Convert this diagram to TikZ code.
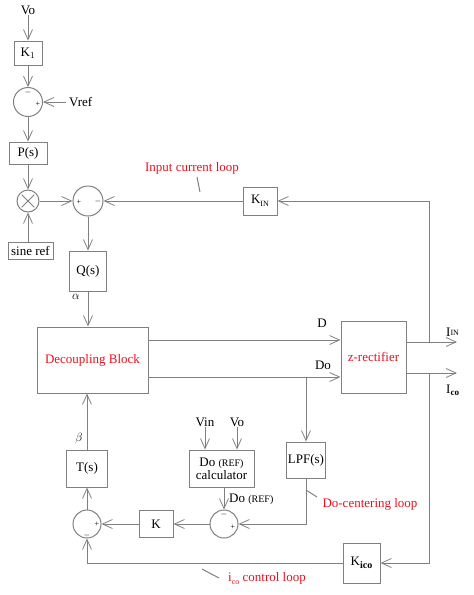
\documentclass[tikz,border=0pt]{standalone}
\usepackage{fontspec}
\setmainfont{Liberation Serif}
\usetikzlibrary{arrows.meta,calc}
\definecolor{ln}{HTML}{808080}
\definecolor{rd}{HTML}{E8101E}
\tikzset{
  blk/.style={draw=ln,line width=1pt,rectangle,inner sep=0pt,align=center,font=\fontsize{13}{14}\selectfont},
  sumc/.style={draw=ln,line width=1pt,circle,inner sep=0pt,minimum size=#1},
  arr/.style={draw=ln,line width=1pt,-{Straight Barb[length=10pt,width=9pt,line width=0.8pt]}},
  wire/.style={draw=ln,line width=1pt},
  txt/.style={inner sep=0pt,font=\fontsize{13}{14}\selectfont},
  rlbl/.style={inner sep=0pt,text=rd,font=\fontsize{13}{14}\selectfont},
  sgn/.style={inner sep=0pt,font=\fontsize{8}{8}\selectfont},
}
\begin{document}
\begin{tikzpicture}[x=1pt,y=-1pt]
\useasboundingbox (0,0) rectangle (474,595);
% left column
\node[txt] (vo) at (28,10) {Vo};
\node[blk,minimum width=28pt,minimum height=24pt] (k1) at (28,53) {K$_1$};
\node[sumc=29pt] (s1) at (28,102) {};
\node[sgn] (s1m) at (28,92) {$-$};
\node[sgn] (s1p) at (38,104) {+};
\coordinate (vrefc) at (66,102);
\node[txt,anchor=west] (vref) at (69,102) {Vref};
\node[blk,minimum width=38pt,minimum height=22pt] (ps) at (28,153) {P(s)};
\node[sumc=22pt] (mu) at (28,201) {};
\node[blk,minimum width=45pt,minimum height=17pt] (sr) at (30.5,250.5) {sine ref};
\node[sumc=30pt] (s2) at (88,201) {};
\node[sgn] (s2p) at (79,202) {+};
\node[sgn] (s2m) at (98,201) {$-$};
\node[blk,minimum width=34pt,minimum height=28pt] (kin) at (260,201) {K\raisebox{-0.5ex}{\fontsize{8}{8}\selectfont IN}};
\node[rlbl] (icl) at (192,168) {Input current loop};
\coordinate (icla) at (197,177);
\coordinate (iclb) at (200,192);
\node[blk,minimum width=37pt,minimum height=40pt] (qs) at (88,271) {Q(s)};
\node[txt] (al) at (76,297) {$\alpha$};
\node[blk,minimum width=111pt,minimum height=66pt,text=rd] (dec) at (92.5,360) {Decoupling Block};
\node[blk,minimum width=65pt,minimum height=72pt,text=rd] (zr) at (373.5,357) {z-rectifier};
\node[txt] (dl) at (322,323) {D};
\node[txt] (dol) at (323,365) {Do};
\node[txt,anchor=west] (iinl) at (446,332) {I\raisebox{0.2ex}{\fontsize{8}{8}\selectfont IN}};
\node[txt,anchor=west] (icol) at (446,390) {I$_{\mathbf{co}}$};
\coordinate (iinend) at (457,342);
\coordinate (icoend) at (457,373);
\coordinate (rtop) at (429,201);
\coordinate (rbot) at (429,563);
\coordinate (lbot) at (87,563);
\coordinate (dobr) at (306,377);
\node[blk,minimum width=39pt,minimum height=36pt] (lpf) at (306,460) {LPF(s)};
\coordinate (lpfc) at (306,524);
\node[txt] (vin) at (205,422) {Vin};
\node[txt] (vo2) at (237,422) {Vo};
\node[blk,minimum width=65pt,minimum height=37pt] (calc) at (221.5,468.5) {Do {\fontsize{10}{10}\selectfont(REF)}\\[-1pt]calculator};
\node[txt,anchor=west] (doref) at (229,499) {Do {\fontsize{10}{10}\selectfont(REF)}};
\node[sumc=28pt] (s3) at (224,524) {};
\node[sgn] (s3m) at (224,514) {$-$};
\node[sgn] (s3p) at (233,527) {+};
\node[rlbl] (dcl) at (370,504) {Do-centering loop};
\coordinate (dcla) at (306,490);
\coordinate (dclb) at (317,497);
\node[blk,minimum width=34pt,minimum height=27pt] (kk) at (156,524) {K};
\node[sumc=28pt] (s4) at (87,524) {};
\node[sgn] (s4p) at (97,524) {+};
\node[sgn] (s4m) at (87,535) {$-$};
\node[blk,minimum width=41pt,minimum height=37pt] (ts) at (87,468.5) {T(s)};
\node[txt] (be) at (79,438) {$\beta$};
\node[blk,minimum width=37pt,minimum height=40pt] (kico) at (361.5,563) {K\raisebox{-0.5ex}{\fontsize{10}{10}\selectfont\bfseries ico}};
\node[rlbl] (icocl) at (267,579) {i\raisebox{-0.5ex}{\fontsize{8}{8}\selectfont co} control loop};
\coordinate (icoa) at (202,569);
\coordinate (icob) at (219,578);
% connectors
\draw[arr] (vo) -- (k1);
\draw[arr] (k1) -- (s1);
\draw[arr] (vrefc) -- (s1);
\draw[arr] (s1) -- (ps);
\draw[arr] (ps) -- (mu);
\draw[arr] (sr.north -| mu.south) -- (mu.south);
\draw[wire,shorten >=2.5pt,shorten <=2.5pt] (mu.45) -- (mu.225);
\draw[wire,shorten >=2.5pt,shorten <=2.5pt] (mu.135) -- (mu.315);
\draw[arr] (mu) -- (s2);
\draw[arr] (kin) -- (s2);
\draw[wire] (icla) -- (iclb);
\draw[arr] (s2) -- (qs);
\draw[arr] (qs.south) -- (qs.south |- dec.north);
\draw[arr] (dec.east |- 0,340) -- (zr.west |- 0,340);
\draw[arr] (dec.east |- dobr) -- (zr.west |- dobr);
\draw[arr] (zr.east |- iinend) -- (iinend);
\draw[arr] (zr.east |- icoend) -- (icoend);
\draw[arr] (rtop |- iinend) -- (rtop) -- (kin);
\draw[arr] (rbot |- icoend) -- (rbot) -- (kico);
\draw[arr] (kico) -- (lbot) -- (s4);
\draw[arr] (dobr) -- (lpf);
\draw[arr] (lpf) -- (lpfc) -- (s3);
\draw[wire] (dcla) -- (dclb);
\draw[arr] (vin.south) -- (vin.south |- calc.north);
\draw[arr] (vo2.south) -- (vo2.south |- calc.north);
\draw[arr] (calc.south -| s3.north) -- (s3);
\draw[arr] (s3) -- (kk);
\draw[arr] (kk) -- (s4);
\draw[arr] (s4) -- (ts);
\draw[arr] (ts.north) -- (ts.north |- dec.south);
\draw[wire] (icoa) -- (icob);
\end{tikzpicture}
\end{document}
